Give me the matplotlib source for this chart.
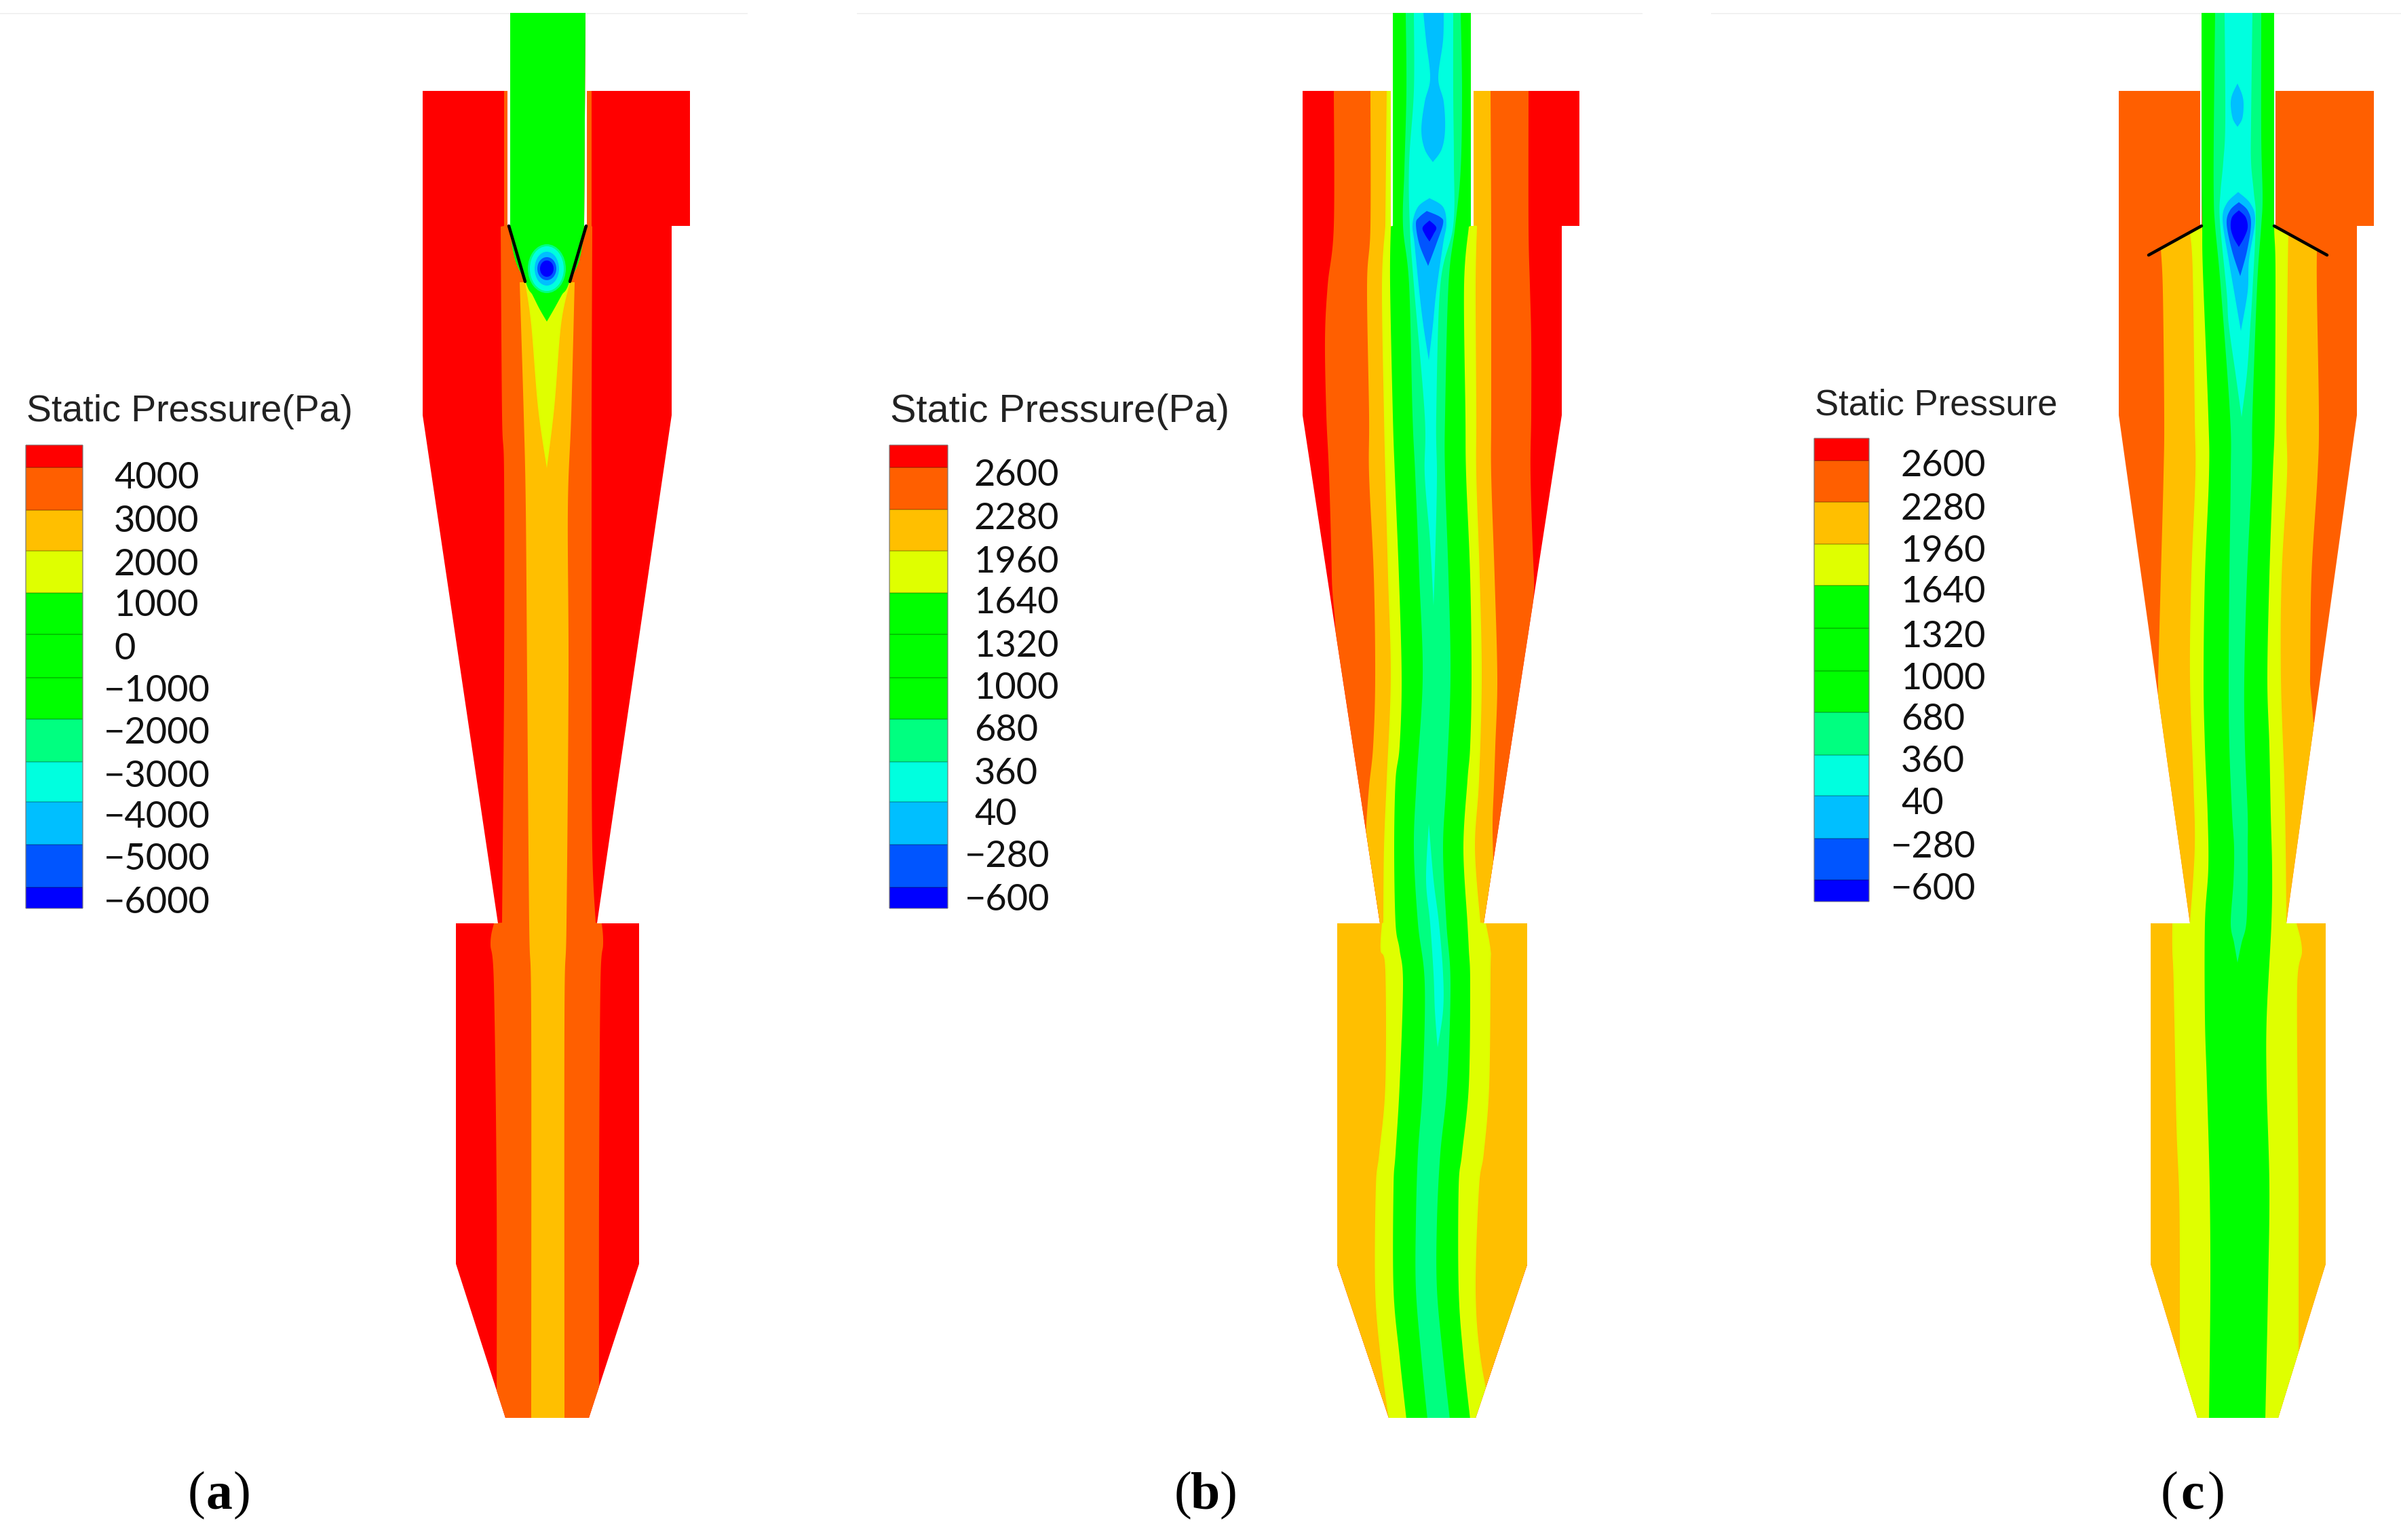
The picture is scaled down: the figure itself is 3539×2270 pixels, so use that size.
import matplotlib

matplotlib.use("Agg")
import matplotlib.pyplot as plt
import numpy as np
from matplotlib.patches import Ellipse
from matplotlib.path import Path

WIDTH = 3539
HEIGHT = 2270
PX = 0.72  # one picture pixel in points at dpi 100

# colour of each pressure band, top of the legend first
RED = "#ff0000"
ORANGE = "#ff5f00"
AMBER = "#ffbf00"
YELLOW = "#dfff00"
GREEN = "#00ff00"
SPRING = "#00ff80"
CYAN = "#00ffdf"
SKY = "#00bfff"
BLUE = "#0055ff"
DEEP = "#0000ff"
legend_colors = [RED, ORANGE, AMBER, YELLOW, GREEN, GREEN, GREEN, SPRING, CYAN, SKY, BLUE, DEEP]

labels_a = ["4000", "3000", "2000", "1000", "0", "\u22121000", "\u22122000", "\u22123000", "\u22124000", "\u22125000", "\u22126000"]
labels_bc = ["2600", "2280", "1960", "1640", "1320", "1000", "680", "360", "40", "\u2212280", "\u2212600"]

legend_edges_a = [656, 689, 752, 812, 874, 935, 999, 1060, 1123, 1182, 1245, 1308, 1339]
legend_ticks_a = [705, 768, 832, 893, 956, 1019, 1081, 1144, 1205, 1267, 1331]
legend_edges_b = [656, 689, 751, 812, 874, 935, 999, 1060, 1123, 1182, 1245, 1308, 1339]
legend_ticks_b = [701, 764, 828, 889, 952, 1015, 1077, 1140, 1201, 1263, 1327]
legend_edges_c = [646, 679, 740, 802, 863, 926, 989, 1050, 1113, 1173, 1236, 1297, 1329]
legend_ticks_c = [687, 750, 813, 873, 938, 1000, 1060, 1123, 1185, 1248, 1310]

# outlines of the three separators
outline_a = [(752, 19), (863, 19), (861, 333), (865, 333), (865, 134), (1017, 134), (1017, 333), (990, 333),
             (990, 612), (880, 1361), (942, 1361), (942, 1863), (868, 2090), (745, 2090), (672, 1863),
             (672, 1361), (734, 1361), (623, 612), (623, 134), (748, 134), (748, 333), (752, 333)]
outline_b = [(2053, 19), (2168, 19), (2168, 333), (2172, 333), (2172, 134), (2328, 134), (2328, 333), (2302, 333),
             (2302, 612), (2187, 1361), (2251, 1361), (2251, 1864), (2175, 2090), (2047, 2090), (1971, 1864),
             (1971, 1361), (2034, 1361), (1920, 612), (1920, 134), (2050, 134), (2050, 333), (2053, 333)]
outline_c = [(3245, 19), (3352, 19), (3352, 333), (3354, 333), (3354, 134), (3499, 134), (3499, 333), (3474, 333),
             (3474, 612), (3370, 1361), (3428, 1361), (3428, 1863), (3358, 2090), (3239, 2090), (3170, 1863),
             (3170, 1361), (3228, 1361), (3123, 612), (3123, 134), (3243, 134), (3243, 333), (3245, 333)]

# contour bands: (y, left edge, right edge)
a_orange = ([134, 333, 334, 612, 700, 1000, 1250, 1360, 1361, 1391, 1452, 1758, 2092],
            [743, 743, 738, 740, 743, 743, 741, 740, 728, 723, 728, 732, 732],
            [872, 872, 873, 872, 872, 872, 873, 878, 887, 889, 885, 883, 883])
a_amber = ([416, 612, 750, 1000, 1361, 1500, 2092],
           [766, 772, 775, 777, 780, 783, 783],
           [847, 842, 837, 838, 835, 832, 832])
a_yellow = ([416, 478, 600, 690],
            [774, 783, 793, 806],
            [840, 827, 817, 806])
a_green = ([19, 333, 416, 435, 455, 474],
           [752, 752, 775, 785, 795, 806],
           [863, 861, 839, 828, 817, 806])
a_vortex_colors = [SPRING, CYAN, SKY, BLUE, DEEP]
a_vortex_rx = [28, 25, 18, 14, 10]
a_vortex_ry = [36, 33, 25, 17, 12]
a_bands = [(a_orange, ORANGE), (a_amber, AMBER), (a_yellow, YELLOW), (a_green, GREEN)]

b_orange = ([134, 333, 420, 500, 612, 700, 850, 1000, 1300, 2092],
            [1966, 1966, 1957, 1953, 1955, 1959, 1963, 1964, 1900, 1900],
            [2253, 2253, 2255, 2257, 2257, 2256, 2261, 2270, 2400, 2400])
b_amber = ([134, 333, 420, 612, 700, 850, 1000, 1100, 1159, 1214, 1270, 1271, 2092],
           [2020, 2020, 2015, 2018, 2018, 2025, 2027, 2024, 2018, 2014, 2012, 1900, 1900],
           [2197, 2198, 2198, 2198, 2198, 2203, 2207, 2204, 2202, 2200, 2201, 2400, 2400])
b_yellow = ([134, 332, 333, 420, 612, 700, 850, 1000, 1150, 1250, 1360, 1361, 1400, 1430, 1600, 1700, 1750, 1900, 2000, 2092],
            [2044, 2042, 2042, 2037, 2040, 2042, 2046, 2050, 2044, 2040, 2039, 2037, 2035, 2042, 2042, 2033, 2028, 2027, 2035, 2047],
            [2163, 2163, 2177, 2175, 2176, 2176, 2181, 2184, 2180, 2174, 2182, 2190, 2197, 2197, 2195, 2187, 2180, 2175, 2182, 2200])
b_green = ([19, 333, 334, 420, 612, 700, 850, 1000, 1100, 1150, 1250, 1361, 1400, 1450, 1600, 1700, 1750, 1900, 2000, 2092],
           [2053, 2053, 2050, 2049, 2053, 2056, 2062, 2066, 2063, 2057, 2055, 2057, 2063, 2068, 2063, 2057, 2054, 2054, 2063, 2073],
           [2168, 2168, 2165, 2158, 2160, 2161, 2167, 2169, 2167, 2163, 2157, 2163, 2165, 2167, 2165, 2155, 2150, 2150, 2157, 2167])
b_spring = ([19, 134, 250, 333, 420, 612, 700, 850, 1000, 1150, 1250, 1361, 1450, 1600, 1700, 1800, 1900, 2000, 2092],
            [2072, 2073, 2070, 2068, 2077, 2082, 2086, 2092, 2097, 2088, 2084, 2090, 2100, 2097, 2090, 2087, 2087, 2095, 2104],
            [2153, 2155, 2153, 2145, 2135, 2130, 2130, 2135, 2138, 2132, 2127, 2132, 2138, 2133, 2123, 2118, 2118, 2127, 2137])
b_cyan_top = ([19, 134, 240, 333, 420, 612, 700, 800, 893],
              [2084, 2084, 2077, 2078, 2084, 2100, 2100, 2108, 2113],
              [2142, 2142, 2143, 2142, 2123, 2117, 2118, 2116, 2113])
b_cyan_low = ([1214, 1297, 1361, 1435, 1490, 1544],
              [2106, 2102, 2108, 2113, 2115, 2119],
              [2106, 2113, 2121, 2127, 2127, 2119])
b_sky_top = ([19, 60, 115, 150, 191, 220, 239],
             [2098, 2102, 2108, 2100, 2095, 2100, 2112],
             [2128, 2127, 2120, 2128, 2130, 2125, 2112])
b_sky_low = ([292, 305, 330, 360, 430, 480, 531],
             [2107, 2090, 2082, 2085, 2092, 2098, 2106],
             [2107, 2127, 2132, 2127, 2117, 2112, 2106])
b_blue = ([311, 320, 330, 360, 392],
          [2103, 2092, 2087, 2092, 2105],
          [2103, 2123, 2127, 2117, 2105])
b_deep = ([325, 335, 345, 356],
          [2107, 2097, 2100, 2107],
          [2107, 2117, 2113, 2107])
b_bands = [(b_orange, ORANGE), (b_amber, AMBER), (b_yellow, YELLOW), (b_green, GREEN), (b_spring, SPRING),
           (b_cyan_top, CYAN), (b_cyan_low, CYAN), (b_sky_top, SKY), (b_sky_low, SKY), (b_blue, BLUE), (b_deep, DEEP)]

c_amber = ([333, 366, 367, 430, 612, 700, 850, 1000, 1008, 1065, 1066, 2092],
           [3245, 3185, 3185, 3188, 3190, 3189, 3185, 3181, 3181, 3181, 3100, 3100],
           [3352, 3415, 3415, 3415, 3418, 3416, 3407, 3405, 3405, 3410, 3500, 3500])
c_yellow = ([333, 342, 343, 400, 612, 700, 850, 1000, 1150, 1250, 1360, 1361, 1401, 1452, 1656, 1758, 1860, 1988, 2092],
            [3245, 3228, 3228, 3232, 3235, 3236, 3230, 3228, 3233, 3235, 3228, 3202, 3202, 3204, 3208, 3212, 3213, 3213, 3213],
            [3352, 3373, 3373, 3372, 3370, 3371, 3363, 3362, 3367, 3369, 3370, 3385, 3393, 3386, 3387, 3388, 3388, 3388, 3388])
c_green = ([19, 250, 333, 400, 612, 700, 850, 1000, 1100, 1200, 1280, 1361, 1500, 1600, 1750, 1900, 2092],
           [3245, 3245, 3246, 3247, 3255, 3256, 3250, 3248, 3250, 3254, 3255, 3250, 3250, 3253, 3257, 3258, 3256],
           [3352, 3352, 3352, 3354, 3353, 3350, 3345, 3342, 3345, 3347, 3349, 3348, 3341, 3341, 3345, 3343, 3339])
c_spring = ([19, 200, 290, 333, 420, 612, 700, 850, 1000, 1100, 1200, 1250, 1300, 1361, 1390, 1419],
            [3265, 3263, 3263, 3265, 3273, 3287, 3288, 3286, 3285, 3286, 3290, 3293, 3292, 3288, 3293, 3298],
            [3333, 3333, 3335, 3333, 3327, 3320, 3319, 3312, 3308, 3309, 3313, 3313, 3313, 3311, 3304, 3298])
c_cyan = ([19, 180, 239, 283, 325, 430, 478, 550, 615],
          [3279, 3280, 3277, 3273, 3272, 3282, 3285, 3295, 3304],
          [3320, 3318, 3318, 3322, 3325, 3320, 3317, 3312, 3304])
c_sky_top = ([123, 140, 155, 175, 187],
             [3298, 3290, 3288, 3291, 3298],
             [3298, 3305, 3307, 3305, 3298])
c_sky_low = ([283, 300, 325, 383, 430, 488],
             [3299, 3282, 3276, 3285, 3293, 3303],
             [3299, 3317, 3324, 3315, 3313, 3303])
c_blue = ([298, 310, 330, 370, 407],
          [3300, 3287, 3282, 3290, 3302],
          [3300, 3313, 3318, 3312, 3302])
c_deep = ([310, 320, 335, 350, 364],
          [3300, 3290, 3288, 3292, 3300],
          [3300, 3310, 3313, 3308, 3300])
c_bands = [(c_amber, AMBER), (c_yellow, YELLOW), (c_green, GREEN), (c_spring, SPRING), (c_cyan, CYAN),
           (c_sky_top, SKY), (c_sky_low, SKY), (c_blue, BLUE), (c_deep, DEEP)]


def rounded_side(xs, ys):
    # catmull-rom through the read points, so contours are not faceted;
    # a jump of one pixel in y is a real step and stays sharp
    pts = np.column_stack([xs, ys]).astype(float)
    breaks = [0] + [i + 1 for i in range(len(pts) - 1) if pts[i + 1, 1] - pts[i, 1] <= 1] + [len(pts)]
    out = []
    for start, stop in zip(breaks[:-1], breaks[1:]):
        sec = pts[start:stop]
        padded = np.vstack([sec[0], sec, sec[-1]])
        for i in range(1, len(padded) - 2):
            p0, p1, p2, p3 = padded[i - 1 : i + 3]
            for t in np.linspace(0, 1, 14):
                out.append(0.5 * (2 * p1 + (p2 - p0) * t + (2 * p0 - 5 * p1 + 4 * p2 - p3) * t**2
                                  + (3 * p1 - p0 - 3 * p2 + p3) * t**3))
        if len(sec) == 1:
            out.append(sec[0])
    return np.array(out)


def draw_body(ax, outline, base, bands):
    clip = Path(outline + [outline[0]])
    ax.fill([p[0] for p in outline], [p[1] for p in outline], color=base, lw=0, zorder=2)
    for i, ((y, left, right), color) in enumerate(bands):
        side_l = rounded_side(left, y)
        side_r = rounded_side(right, y)
        ring = np.vstack([side_l, side_r[::-1]])
        poly = ax.fill(ring[:, 0], ring[:, 1], color=color, lw=0, zorder=3 + i * 0.01)[0]
        poly.set_clip_path(clip, ax.transData)


def draw_legend(ax, title, title_y, title_size, x0, x1, edges, ticks, labels, label_x, minus_x):
    ax.text(x0 + 1, title_y, title, family="Liberation Sans", fontsize=title_size, va="center", ha="left",
            color="#222222")
    for i, color in enumerate(legend_colors):
        ax.fill_between([x0, x1], edges[i], edges[i + 1], color=color, lw=0, zorder=2)
    ax.hlines(edges[1:-1], x0, x1, color="#000000", alpha=0.22, lw=2 * PX, zorder=3)
    ax.vlines([x0, x1], edges[0], edges[-1], color="#777777", alpha=0.6, lw=2 * PX, zorder=3)
    ax.hlines([edges[0], edges[-1]], x0, x1, color="#777777", alpha=0.5, lw=2 * PX, zorder=3)
    for tick, label in zip(ticks, labels):
        x = minus_x if label.startswith("\u2212") else label_x
        ax.text(x, tick, label, family="Lato", fontsize=39, va="center", ha="left", color="#111111")


def sub_label(ax, x, letter):
    serif = dict(family="Liberation Serif", fontsize=56, va="baseline", color="black")
    ax.text(x - 21, 2223, "(", ha="right", **serif)
    ax.text(x, 2223, letter, ha="center", fontweight="bold", **serif)
    ax.text(x + 21, 2223, ")", ha="left", **serif)


def main():
    fig = plt.figure(figsize=(WIDTH / 100, HEIGHT / 100), dpi=100, facecolor="white")
    ax = fig.add_axes([0, 0, 1, 1])
    ax.set_xlim(0, WIDTH)
    ax.set_ylim(HEIGHT, 0)
    ax.axis("off")

    # faint page rules behind the pipes
    for x0, x1 in [(0, 1101), (1264, 2420), (2523, 3539)]:
        ax.plot([x0, x1], [20, 20], color="#f1f1f1", lw=2 * PX, zorder=1)

    draw_body(ax, outline_a, RED, a_bands)
    for color, rx, ry in zip(a_vortex_colors, a_vortex_rx, a_vortex_ry):
        ax.add_patch(Ellipse((806, 396), 2 * rx, 2 * ry, color=color, lw=0, zorder=4))
    draw_body(ax, outline_b, RED, b_bands)
    draw_body(ax, outline_c, ORANGE, c_bands)

    # guide vanes
    vanes = [[(750, 333), (774, 415)], [(864, 333), (840, 415)],
             [(3167, 376), (3245, 333)], [(3352, 333), (3430, 376)]]
    for (x0, y0), (x1, y1) in vanes:
        ax.plot([x0, x1], [y0, y1], color="black", lw=4.5 * PX, solid_capstyle="round", zorder=6)

    draw_legend(ax, "Static Pressure(Pa)", 607, 40, 38, 122, legend_edges_a, legend_ticks_a, labels_a, 168, 153)
    draw_legend(ax, "Static Pressure(Pa)", 607, 41.5, 1311, 1397, legend_edges_b, legend_ticks_b, labels_bc, 1436, 1422)
    draw_legend(ax, "Static Pressure", 597, 38, 2674, 2755, legend_edges_c, legend_ticks_c, labels_bc, 2802, 2787)

    sub_label(ax, 323, "a")
    sub_label(ax, 1777, "b")
    sub_label(ax, 3232, "c")

    fig.savefig("out.png", dpi=100, facecolor="white")


if __name__ == "__main__":
    main()
